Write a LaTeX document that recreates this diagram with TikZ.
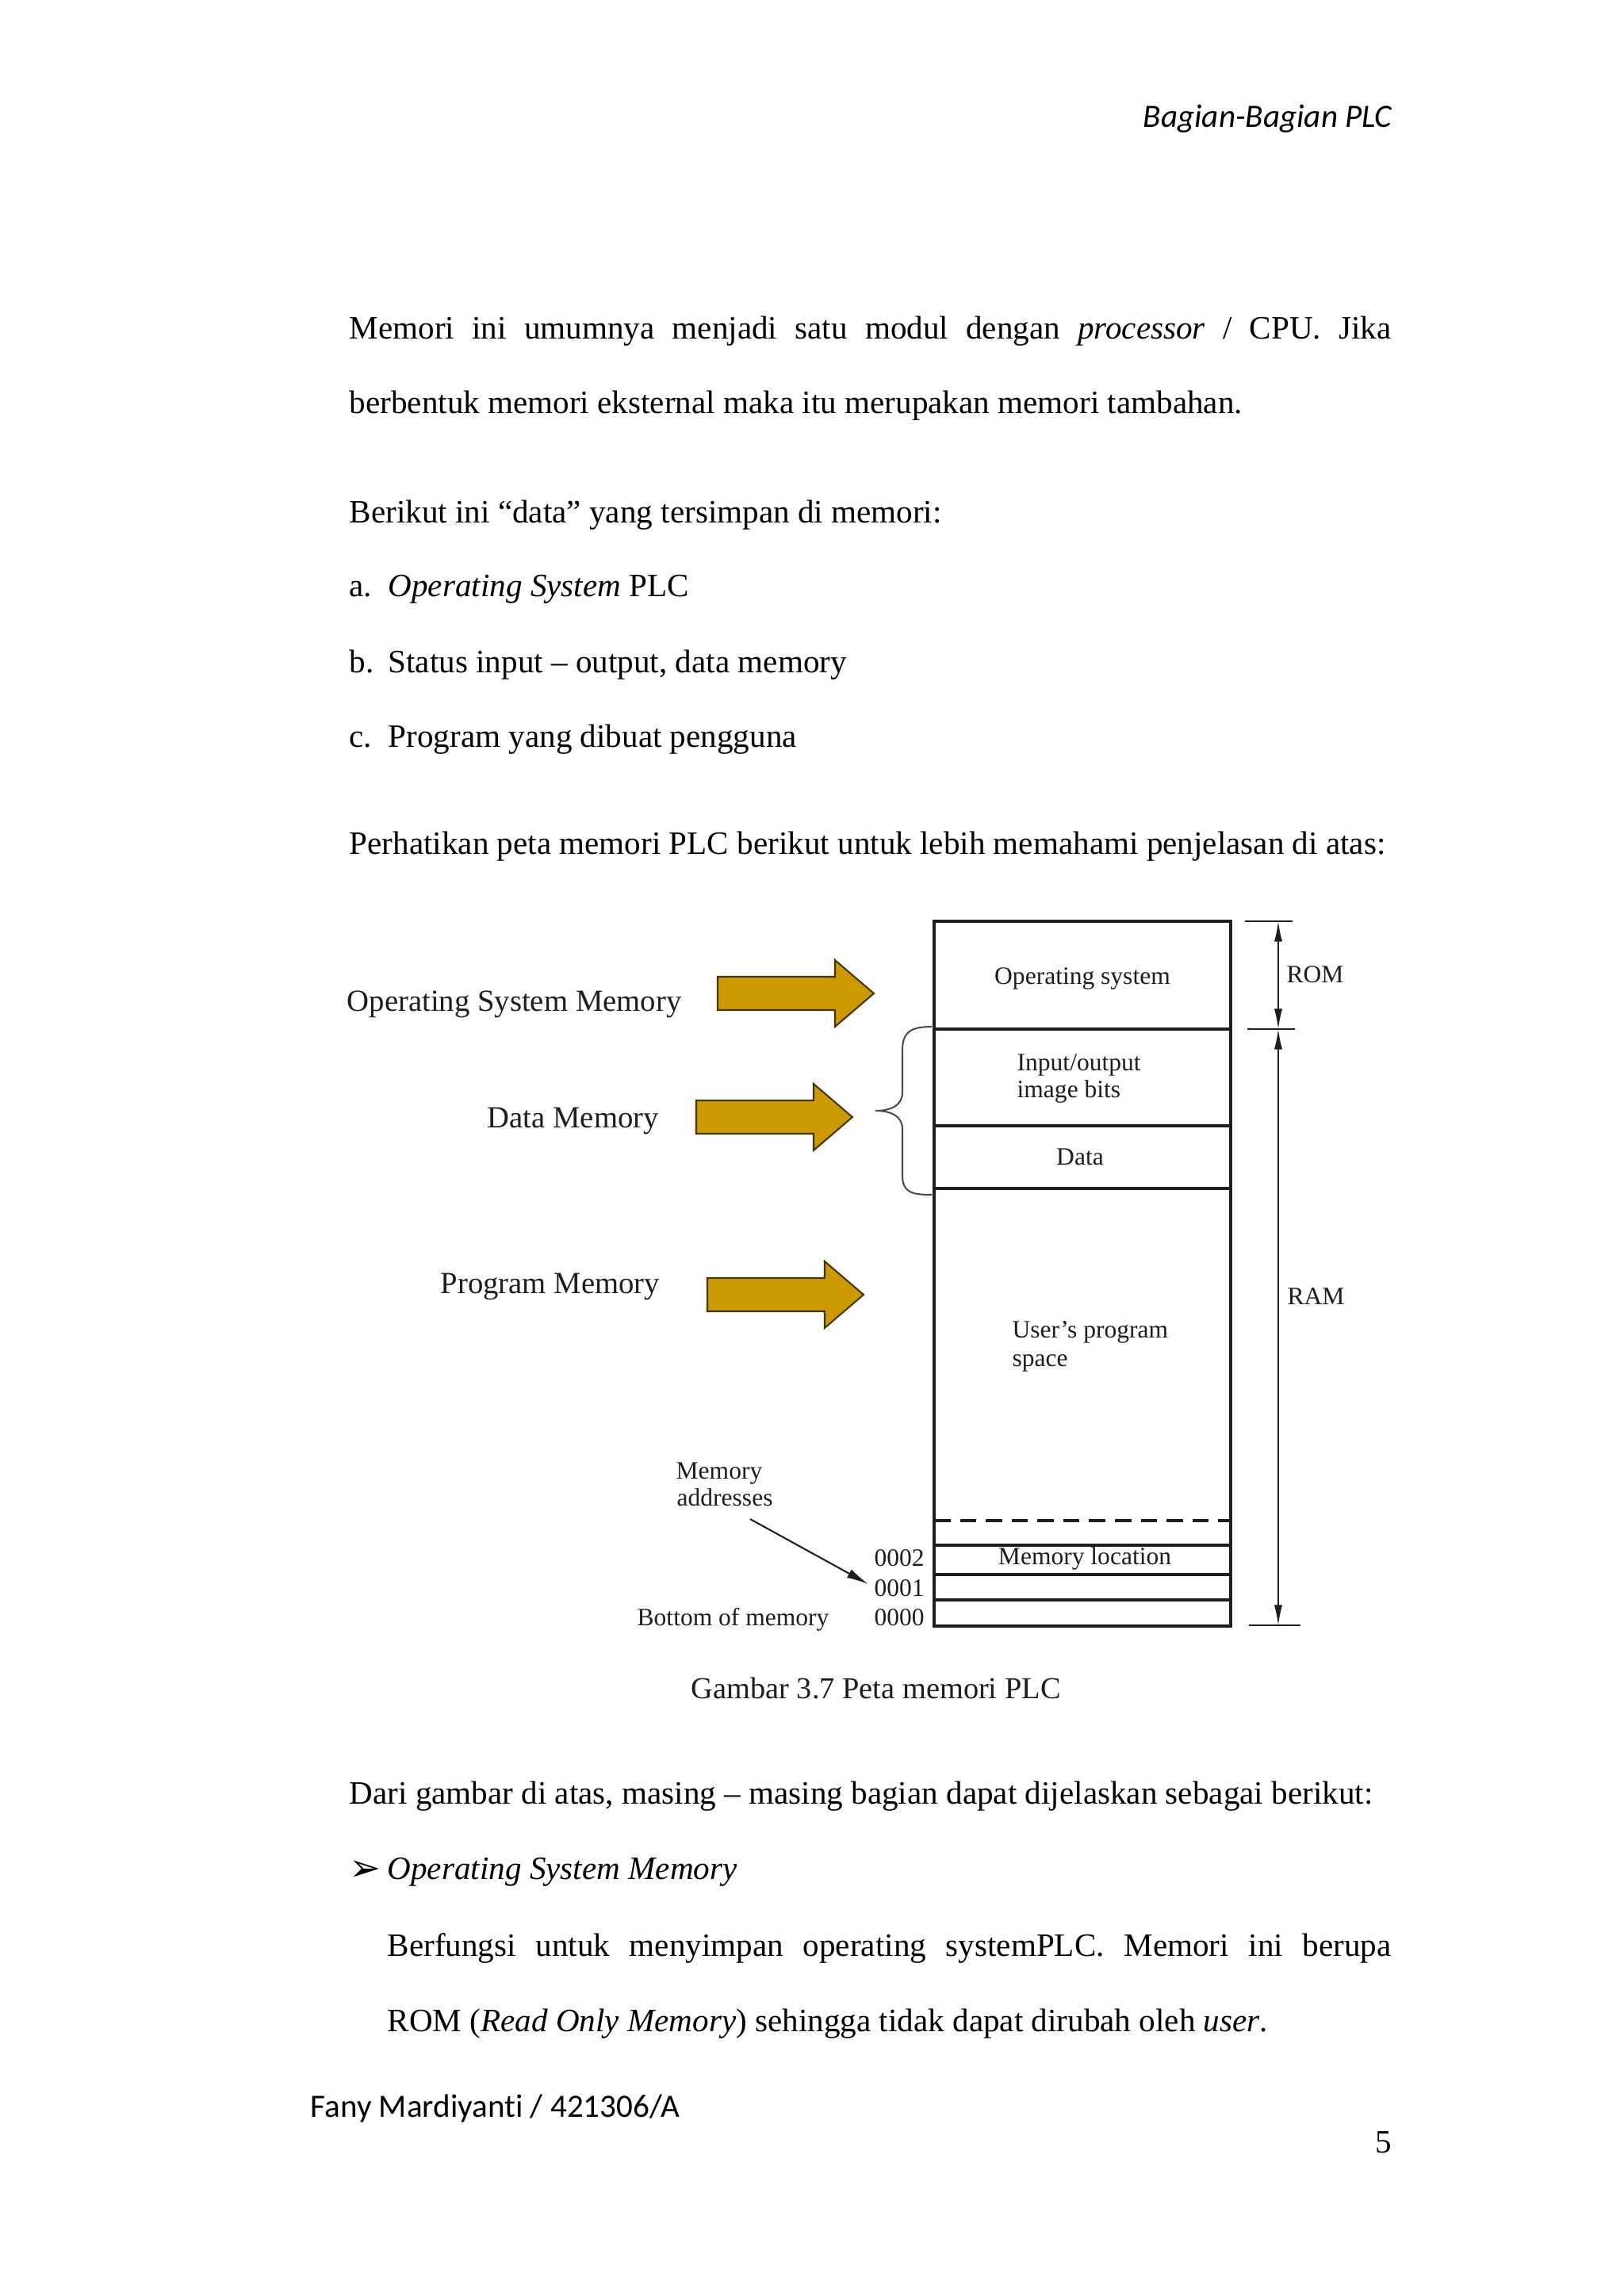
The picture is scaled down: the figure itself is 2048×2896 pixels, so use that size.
\documentclass[tikz,border=0pt]{standalone}
\usepackage{fontspec}
\setmainfont{Liberation Serif}
\newfontfamily\calibrifont[Ligatures=NoCommon]{Carlito}
\newfontfamily\symbolfont{DejaVu Sans}
\usetikzlibrary{arrows.meta}

\definecolor{arrowgold}{RGB}{204,153,0}
\definecolor{arrowedge}{RGB}{70,52,0}
\definecolor{figink}{RGB}{30,30,30}

\begin{document}
\begin{tikzpicture}[x=0.0102539cm, y=-0.0102539cm,
    body/.style={anchor=base west, inner sep=0, font=\fontsize{12}{14}\selectfont},
    figlabel/.style={anchor=base west, inner sep=0, text=figink, font=\fontsize{11.3}{13}\selectfont},
    figsmall/.style={anchor=base west, inner sep=0, text=figink, font=\fontsize{9.2}{11}\selectfont},
    memline/.style={line width=0.9pt, draw=figink},
    dimline/.style={line width=0.5pt, draw=figink},
    dimarrow/.style={line width=0.5pt, draw=figink, {Latex[length=7.5pt,width=3pt]}-{Latex[length=7.5pt,width=3pt]}},
    fatarrow/.pic={\draw[fill=arrowgold, draw=arrowedge, line width=0.6pt] (0,-21) -- (148,-21) -- (148,-42) -- (197,0) -- (148,42) -- (148,21) -- (0,21) -- cycle;}
  ]
    % Page
    \fill[white] (0,0) rectangle (2048,2896);
    \node[anchor=base east, inner sep=0, font=\calibrifont\itshape\fontsize{12}{14}\selectfont] (header) at (1756,160) {Bagian-Bagian PLC};

    % Text above the figure
    \node[body] (lineone) at (440,427) {\makebox[13.474cm][s]{Memori ini umumnya menjadi satu modul dengan \textit{processor} / CPU. Jika}};
    \node[body] (linetwo) at (440,521) {berbentuk memori eksternal maka itu merupakan memori tambahan.};
    \node[body] (berikut) at (440,659) {Berikut ini “data” yang tersimpan di memori:};
    \node[body] (itema) at (440,752) {a.};
    \node[body] (itematext) at (489,752) {\textit{Operating System} PLC};
    \node[body] (itemb) at (440,848) {b.};
    \node[body] (itembtext) at (489,848) {Status input – output, data memory};
    \node[body] (itemc) at (440,942) {c.};
    \node[body] (itemctext) at (489,942) {Program yang dibuat pengguna};
    \node[body] (perhatikan) at (440,1077) {Perhatikan peta memori PLC berikut untuk lebih memahami penjelasan di atas:};

    % Memory column
    \draw[memline] (1178,1162) rectangle (1552,2051);
    \draw[memline] (1178,1298) -- (1552,1298);
    \draw[memline] (1178,1420) -- (1552,1420);
    \draw[memline] (1178,1499) -- (1552,1499);
    \draw[memline, line width=1.2pt, dash pattern=on 6pt off 3.5pt] (1178,1918) -- (1552,1918);
    \draw[memline] (1178,1949) -- (1552,1949);
    \draw[memline] (1178,1986) -- (1552,1986);
    \draw[memline] (1178,2018) -- (1552,2018);

    \node[figsmall, anchor=base] (ostext) at (1365,1241) {Operating system};
    \node[figsmall] (iotext) at (1282,1350) {Input/output};
    \node[figsmall] (bitstext) at (1282,1384) {image bits};
    \node[figsmall, anchor=base] (datatext) at (1362,1469) {Data};
    \node[figsmall] (usertext) at (1276,1687) {User's program};
    \node[figsmall] (spacetext) at (1276,1723) {space};
    \node[figsmall, anchor=base] (loctext) at (1368,1973) {Memory location};

    % Addresses
    \node[figsmall] (addrtwo) at (1102,1975) {0002};
    \node[figsmall] (addrone) at (1102,2013) {0001};
    \node[figsmall] (addrzero) at (1102,2050) {0000};
    \node[figsmall] (addrlabel) at (852,1865) {Memory};
    \node[figsmall] (addrlabeltwo) at (853,1899) {addresses};
    \node[figsmall] (bottom) at (803,2050) {Bottom of memory};
    \coordinate (addrfrom) at (946,1916);
    \coordinate (addrto) at (1095,1998);
    \draw[line width=0.6pt, draw=figink, -{Latex[length=8pt,width=3.5pt]}] (addrfrom) -- (addrto);

    % ROM / RAM dimensions
    \coordinate (romtop) at (1612,1162);
    \coordinate (romram) at (1612,1298);
    \coordinate (rambot) at (1612,2050);
    \draw[dimline] (1570,1162) -- (1630,1162);
    \draw[dimline] (1573,1298) -- (1633,1298);
    \draw[dimline] (1575,2050) -- (1640,2050);
    \draw[dimarrow] (romtop) -- (romram);
    \draw[dimarrow] (romram) -- (rambot);
    \node[figsmall] (romtext) at (1622,1239) {ROM};
    \node[figsmall] (ramtext) at (1623,1645) {RAM};

    % Data memory brace
    \draw[line width=0.6pt, draw=figink!80] (1175,1295) .. controls (1148,1295) and (1138,1302) .. (1138,1325) -- (1138,1378) .. controls (1138,1394) and (1124,1401) .. (1104,1401) .. controls (1124,1401) and (1138,1408) .. (1138,1424) -- (1138,1482) .. controls (1138,1503) and (1148,1507) .. (1175,1507);

    % Labels with block arrows
    \node[figlabel] (osmem) at (437,1275) {Operating System Memory};
    \node[figlabel] (datamem) at (614,1422) {Data Memory};
    \node[figlabel] (progmem) at (555,1631) {Program Memory};
    \pic at (905,1253) {fatarrow};
    \pic at (878,1409) {fatarrow};
    \pic at (892,1633) {fatarrow};

    \node[anchor=base west, inner sep=0, text=figink, font=\fontsize{11.2}{13}\selectfont] (caption) at (871,2142) {Gambar 3.7 Peta memori PLC};

    % Text below the figure
    \node[body] (dari) at (440,2275) {Dari gambar di atas, masing – masing bagian dapat dijelaskan sebagai berikut:};
    \node[anchor=base west, inner sep=0, font=\symbolfont\fontsize{14}{16}\selectfont] (bullet) at (440,2372) {➢};
    \node[body] (ostitle) at (488,2370) {\textit{Operating System Memory}};
    \node[body] (fungsi) at (488,2467) {\makebox[12.98cm][s]{Berfungsi untuk menyimpan operating systemPLC. Memori ini berupa}};
    \node[body] (romline) at (488,2562) {ROM (\textit{Read Only Memory}) sehingga tidak dapat dirubah oleh \textit{user}.};

    % Footer
    \node[anchor=base west, inner sep=0, font=\calibrifont\fontsize{12}{14}\selectfont] (footer) at (391,2670) {Fany Mardiyanti / 421306/A};
    \node[body, anchor=base east] (pagenum) at (1756,2715) {5};
\end{tikzpicture}
\end{document}
